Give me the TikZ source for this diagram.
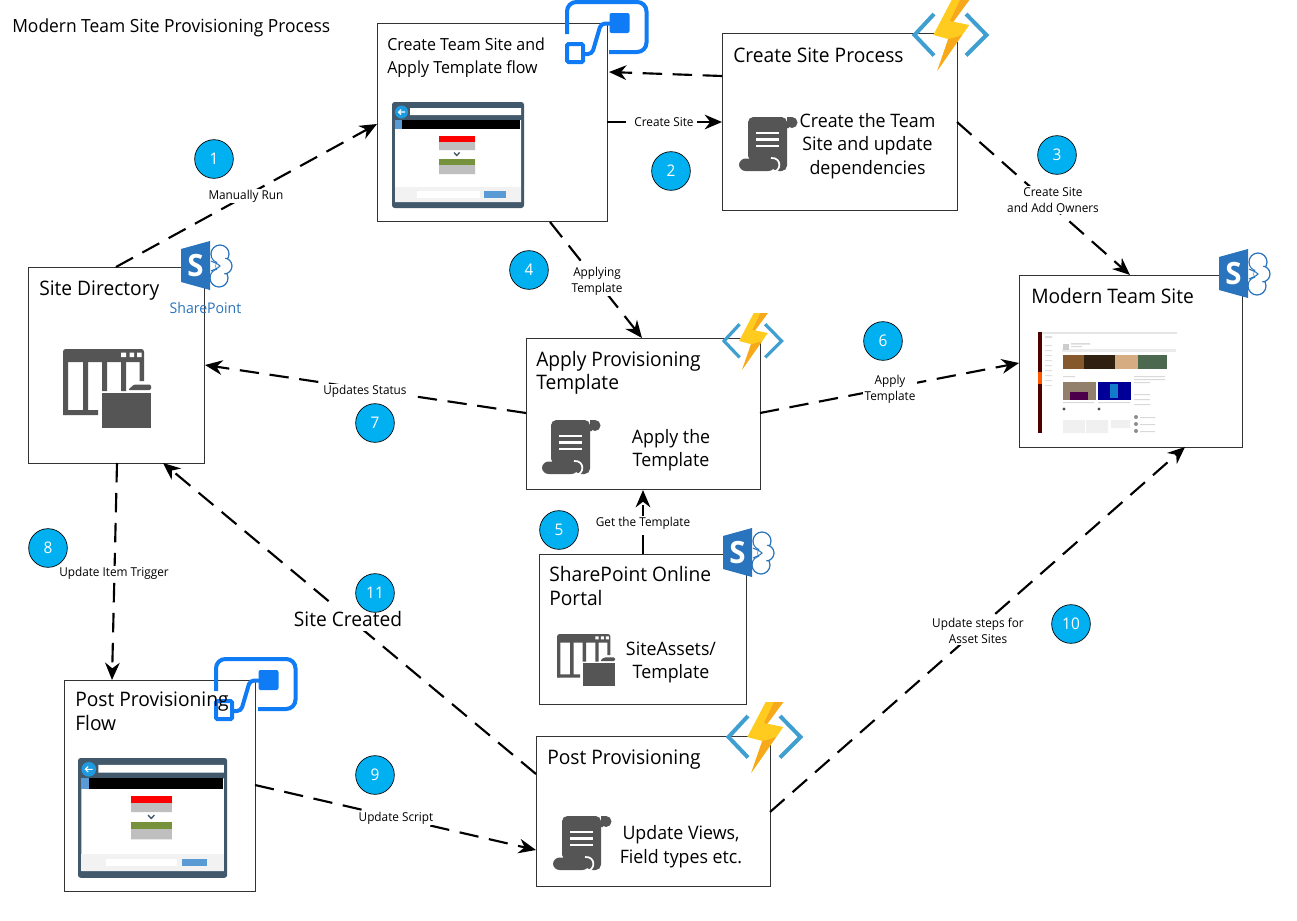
\documentclass[tikz,border=0pt]{standalone}
\usepackage{fontspec}
\setmainfont[FakeStretch=0.96]{Open Sans}
\usetikzlibrary{arrows.meta}
\definecolor{flowblue}{HTML}{0F7BF4}
\definecolor{iconGrey}{HTML}{555555}
\definecolor{spblue}{HTML}{2A73BD}
\definecolor{stepblue}{HTML}{00B0F0}
\definecolor{browser}{HTML}{41596B}
\definecolor{boltA}{HTML}{FFCB1F}
\definecolor{boltB}{HTML}{F7A81B}
\definecolor{chev}{HTML}{3F9FD0}
\definecolor{btnblue}{HTML}{5B9BD5}
\definecolor{backblue}{HTML}{1E9BE0}
\definecolor{oliveband}{HTML}{76923C}
\tikzset{
 wh/.style 2 args={minimum width=#1*0.75pt,minimum height=#2*0.75pt},
 panel/.style={draw=black!80,line width=1pt,fill=white,anchor=north west,inner sep=0pt},
 heading/.style={anchor=west,align=left,inner sep=0pt,font=\fontsize{15}{17.7}\selectfont},
 headsmall/.style={anchor=west,align=left,inner sep=0pt,font=\fontsize{12.5}{17.2}\selectfont},
 body/.style={align=center,inner sep=0pt,font=\fontsize{13.9}{17.6}\selectfont},
 link/.style={line width=1.6pt,dash pattern=on 14.5pt off 8pt,-{Stealth[length=13pt,width=11pt]}},
 linktext/.style={align=center,inner sep=1pt,fill=white,font=\fontsize{9.2}{12}\selectfont},
 stepnum/.style={circle,draw=black,line width=0.5pt,fill=stepblue,text=white,minimum size=29pt,inner sep=0pt,font=\fontsize{12}{14}\selectfont},
}
\newcommand\flowicon[2]{\begin{scope}[shift={(#1,#2)}]
 \draw[flowblue,line width=3pt,rounded corners=7pt] (2,34)--(2,2)--(81.5,2)--(81.5,52)--(44,52);
 \draw[flowblue,line width=3pt,rounded corners=3pt] (19,54)--(27,54)--(36,23.5)--(46,23.5);
 \fill[flowblue,rounded corners=1.5pt] (44.5,13)rectangle(64.5,33);
 \draw[flowblue,fill=white,line width=3pt,rounded corners=1pt] (2,44)rectangle(18,62);
\end{scope}}
\newcommand\funcicon[3]{\begin{scope}[shift={(#1,#2)},scale=#3]
 \draw[chev,line width=3pt*#3] (22,14)--(2.5,35)--(22,55.5);
 \draw[chev,line width=3pt*#3] (54,14)--(74.5,35)--(54,55.5);
 \fill[boltA] (39.7,0)--(21.3,35)--(36.3,39)--(25.3,70.7)--(57.3,25)--(41.3,21.7)--(57.3,0)--cycle;
 \fill[boltB] (48,0)--(38,21)--(41.3,21.7)--(57.3,0)--cycle (36.3,39)--(25.3,70.7)--(50,35)--(41,38)--cycle;
\end{scope}}
\newcommand\shareicon[2]{\begin{scope}[shift={(#1,#2)}]
 \draw[spblue,fill=white,line width=0.9pt] (39,13) circle (9);
 \draw[spblue,fill=white,line width=0.9pt] (38,37) circle (9);
 \draw[spblue,fill=white,line width=0.9pt] (43,25) circle (8);
 \fill[white] (38,14) circle (7) (37,36) circle (7) (41,25) circle (6);
 \draw[spblue,line width=0.8pt] (30,20)..controls (34,22) and (36,22)..(39,25)..controls (36,28) and (34,28)..(30,30);
 \fill[spblue] (0,8)--(29,0)--(29,49)--(0,41)--cycle;
 \node[text=white,inner sep=0pt,font=\fontsize{23}{23}\bfseries\selectfont] at (14.5,24.5) {S};
\end{scope}}
\newcommand\scrollicon[2]{\begin{scope}[shift={(#1,#2)}]
 \fill[iconGrey,rounded corners=4pt] (9,44)--(9,0)--(48,0)--(48,54)--(34,54)--(30,44)--cycle;
 \fill[iconGrey] (48,0) rectangle (53,4) (48,0) rectangle (50,11);
 \fill[iconGrey] (53,5.5) circle (5.5);
 \fill[iconGrey,rounded corners=5pt] (0,41.5)--(36,41.5)--(36,54)--(0,54)--cycle;
 \draw[white,line width=1.3pt] (32,41) .. controls (43,40) and (43,55) .. (33,55);
 \draw[white,line width=1.6pt] (17,16)--(40,16) (17,22.5)--(40,22.5) (17,29)--(40,29);
\end{scope}}
\newcommand\listicon[3]{\begin{scope}[shift={(#1,#2)},scale=#3]
 \fill[iconGrey,rounded corners=2pt] (0,0)rectangle(81,13);
 \fill[iconGrey,rounded corners=1.5pt] (0,5)rectangle(5,66);
 \fill[iconGrey] (0,61)rectangle(35,66) (20,10)rectangle(25,63) (39,10)rectangle(44,42) (58,10)rectangle(63,42) (76.5,10)rectangle(81,32);
 \fill[white] (58,3.5)rectangle(63,8) (66.5,3.5)rectangle(71,8) (74,3.5)rectangle(78.5,8);
 \fill[iconGrey] (39,43.5)rectangle(88,79);
 \fill[iconGrey,rounded corners=1pt] (65,41)--(71,35.5)--(88,35.5)--(88,41)--cycle;
\end{scope}}
\newcommand\browsericon[3]{\begin{scope}[shift={(#1,#2)},scale=#3]
 \fill[browser,rounded corners=2pt] (0,0)rectangle(132,106);
 \fill[white] (18,6)rectangle(129,13) (3,18)rectangle(129,100);
 \fill[black] (3,18)rectangle(128,27);
 \fill[btnblue] (3,18)rectangle(10,27);
 \fill[backblue] (9.5,10) circle (6.5);
 \draw[white,line width=0.8pt] (13,10)--(6.5,10) (9,7.5)--(6.5,10)--(9,12.5);
 \fill[black!5] (3,85)rectangle(129,100);
 \fill[white] (24.5,89)rectangle(88,96);
 \fill[btnblue] (92,89)rectangle(114,96);
 \fill[black!25] (47,34)rectangle(83,48) (47,57)rectangle(83,72);
 \fill[red] (47,34)rectangle(83,40);
 \fill[oliveband] (47,57)rectangle(83,63);
 \draw[browser,line width=1pt] (62,50.5)--(64.8,53.5)--(67.6,50.5);
\end{scope}}
\begin{document}
\begin{tikzpicture}[x=0.75pt,y=-0.75pt]
\useasboundingbox (0,0) rectangle (1297,921);
\fill[white] (0,0) rectangle (1297,921);
% panels
\node[panel,wh={230}{198}] (flowA) at (377,23) {};
\node[panel,wh={235}{177}] (siteproc) at (722,33) {};
\node[panel,wh={176}{196}] (directory) at (28,267) {};
\node[panel,wh={223}{172}] (teamsite) at (1019,275) {};
\node[panel,wh={234}{151}] (applyproc) at (526,338) {};
\node[panel,wh={207}{150}] (portal) at (539,554) {};
\node[panel,wh={191}{211}] (flowB) at (64,680) {};
\node[panel,wh={234}{150}] (postproc) at (536,736) {};
% title
\node[anchor=west,inner sep=0pt,font=\fontsize{13.6}{16}\selectfont] (title) at (12,28) {Modern Team Site Provisioning Process};
% icons
\flowicon{565}{0}
\funcicon{912}{0}{1}
\funcicon{722}{313}{0.8}
\funcicon{726}{702}{1}
\shareicon{181}{241}
\shareicon{1219}{249}
\shareicon{723}{528}
\flowicon{214}{657}
\scrollicon{739}{117}
\scrollicon{542}{420}
\scrollicon{553}{816}
\listicon{63}{349}{1}
\listicon{557}{634}{0.66}
\browsericon{392}{102}{1}
\browsericon{78}{758}{1.13}
% team site screenshot
\fill[black!10] (1038,332) rectangle (1177,333.5);
\fill[black!8] (1062,348.5) rectangle (1176,351.5);
\fill[black!70!red] (1038,332) rectangle (1042,433);
\fill[orange!70!red] (1038,372) rectangle (1042,384);
\fill[brown!70!black] (1063,355) rectangle (1084,369);
\fill[black!75!brown] (1084,355) rectangle (1115,369);
\fill[brown!65!white] (1115,355) rectangle (1138,369);
\fill[black!30!teal!60!brown] (1138,355) rectangle (1167,369);
\fill[gray!70!brown] (1063,382) rectangle (1096,400);
\fill[violet!60!black] (1070,392) rectangle (1088,400);
\fill[blue!60!black] (1098,382) rectangle (1131,400);
\fill[cyan!60!blue] (1110,384) rectangle (1118,398);
\fill[black!12] (1045,336) rectangle (1052,338) (1045,345) rectangle (1052,346) (1045,350) rectangle (1052,351) (1045,355) rectangle (1052,356) (1045,360) rectangle (1052,361) (1045,365) rectangle (1052,366) (1045,370) rectangle (1052,371) (1045,375) rectangle (1052,376) (1045,380) rectangle (1052,381) (1045,385) rectangle (1052,386);
\fill[black!15] (1063,376) rectangle (1075,377) (1063,402) rectangle (1094,403) (1098,402) rectangle (1130,403) (1134,376) rectangle (1165,377) (1134,379) rectangle (1165,380) (1134,382) rectangle (1150,383) (1134,394) rectangle (1150,395) (1134,399) rectangle (1150,400) (1134,404) rectangle (1150,405);
\fill[black!6] (1063,420) rectangle (1085,433) (1086,420) rectangle (1108,433) (1111,420) rectangle (1130,428);
\fill[black!20] (1063,344) rectangle (1069,350);
\fill[black!15] (1071,343) rectangle (1090,344.5) (1071,346) rectangle (1082,347) (1140,417) rectangle (1155,418) (1140,424) rectangle (1155,425) (1140,431) rectangle (1155,432);
\fill[black!70] (1064,409) circle (1.6) (1099,409) circle (1.6);
\fill[black!45] (1136,417) circle (2) (1136,424) circle (2) (1136,431) circle (2);
% headings
\node[headsmall] (hFlowA) at (387,58) {Create Team Site and\\Apply Template flow};
\node[heading] (hSiteproc) at (733,55) {Create Site Process};
\node[heading] (hDirectory) at (39,291) {Site Directory};
\node[heading] (hTeam) at (1031,296) {Modern Team Site};
\node[heading] (hApply) at (536,373) {Apply Provisioning\\Template};
\node[heading] (hPortal) at (549,586) {SharePoint Online\\Portal};
\node[heading] (hFlowB) at (75,711.5) {Post Provisioning\\Flow};
\node[heading] (hPost) at (547,760) {Post Provisioning};
\node[body] (bSite) at (867.5,146) {Create the Team\\Site and update\\dependencies};
\node[body] (bApply) at (671,450) {Apply the\\Template};
\node[body] (bAssets) at (671,662.5) {SiteAssets/\\Template};
\node[body] (bPost) at (681,846.5) {Update Views,\\Field types etc.};
\node[inner sep=0pt,text=spblue,font=\fontsize{11}{13}\selectfont] (spword) at (205.5,308) {SharePoint};
% connectors
\draw[link] ([shift={(88,0)}]directory.north west) -- ([shift={(0,101)}]flowA.north west);
\draw[link] ([shift={(0,43)}]siteproc.north west) -- ([shift={(232,49)}]flowA.north west);
\draw[link] ([shift={(230,99)}]flowA.north west) -- ([shift={(0,89)}]siteproc.north west);
\draw[link] ([shift={(235,89)}]siteproc.north west) -- ([shift={(111,0)}]teamsite.north west);
\draw[link] ([shift={(173,199)}]flowA.north west) -- ([shift={(116,0)}]applyproc.north west);
\draw[link] ([shift={(234,75)}]applyproc.north west) -- ([shift={(0,88)}]teamsite.north west);
\draw[link] ([shift={(0,75)}]applyproc.north west) -- ([shift={(177,98)}]directory.north west);
\draw[link] ([shift={(104,0)}]portal.north west) -- ([shift={(117,152)}]applyproc.north west);
\draw[link] ([shift={(89,196)}]directory.north west) -- ([shift={(48,0)}]flowB.north west);
\draw[link] ([shift={(0,38)}]postproc.north west) -- ([shift={(135,196)}]directory.north west);
\draw[link] ([shift={(191,105)}]flowB.north west) -- ([shift={(0,114)}]postproc.north west);
\draw[link] ([shift={(234,76)}]postproc.north west) -- ([shift={(166,172)}]teamsite.north west);
% connector labels
\node[linktext] (lCreate) at (664,122.5) {Create Site};
\node[linktext] (lManual) at (246,196) {Manually Run};
\node[linktext] (lOwners) at (1053,200) {Create Site\\and Add Owners};
\node[linktext] (lApplying) at (597,281) {Applying\\Template};
\node[linktext] (lApplyT) at (890,389) {Apply\\Template};
\node[linktext] (lStatus) at (365,391) {Updates Status};
\node[linktext] (lGet) at (643,523) {Get the Template};
\node[linktext] (lTrigger) at (114,573) {Update Item Trigger};
\node[linktext,inner xsep=1pt,inner ysep=3.5pt,font=\fontsize{15}{17}\selectfont] (lCreated) at (348,619) {Site Created};
\node[linktext] (lScript) at (396,818) {Update Script};
\node[linktext] (lAsset) at (978,631) {Update steps for\\Asset Sites};
% step numbers
\node[stepnum] (n1) at (214,159) {1};
\node[stepnum] (n2) at (671,171) {2};
\node[stepnum] (n3) at (1057,155) {3};
\node[stepnum] (n4) at (529,270) {4};
\node[stepnum] (n5) at (559,530) {5};
\node[stepnum] (n6) at (883,341) {6};
\node[stepnum] (n7) at (375,423) {7};
\node[stepnum] (n8) at (48,548) {8};
\node[stepnum] (n9) at (375,775) {9};
\node[stepnum] (n10) at (1071,624) {10};
\node[stepnum] (n11) at (375,593) {11};
\end{tikzpicture}
\end{document}
